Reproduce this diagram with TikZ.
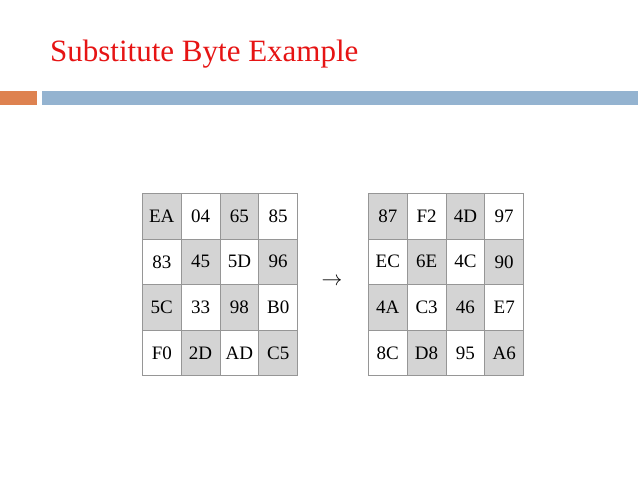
\documentclass[tikz,border=0pt]{standalone}
\usepackage{fontspec}
\setmainfont{Liberation Serif}
\definecolor{titlered}{RGB}{230,20,20}
\definecolor{barblue}{RGB}{148,179,208}
\definecolor{barorange}{RGB}{222,130,80}
\definecolor{cellgray}{RGB}{212,212,212}
\definecolor{gridline}{RGB}{150,150,150}
\begin{document}
\begin{tikzpicture}[x=1pt,y=-1pt,
  cellbox/.style={draw=gridline,line width=0.8pt,minimum width=38.8pt,minimum height=45.6pt,inner sep=0pt,anchor=north west,font=\fontsize{19}{20}\selectfont},
  shaded/.style={cellbox,fill=cellgray},
  plain/.style={cellbox,fill=white}]
\useasboundingbox (0,0) rectangle (638,478);
\fill[white] (0,0) rectangle (638,478);
\node[anchor=base west,text=titlered,font=\fontsize{31}{34}\selectfont,inner sep=0pt] (title) at (50,62) {Substitute Byte Example};
\fill[barorange] (0,91) rectangle (37,105);
\fill[barblue] (42,91) rectangle (638,105);
\def\leftvals{{"EA","04","65","85","83","45","5D","96","5C","33","98","B0","F0","2D","AD","C5"}}
\def\rightvals{{"87","F2","4D","97","EC","6E","4C","90","4A","C3","46","E7","8C","D8","95","A6"}}
\foreach \r in {0,1,2,3}{
  \foreach \c in {0,1,2,3}{
    \pgfmathtruncatemacro{\idx}{4*\r+\c}
    \pgfmathtruncatemacro{\parity}{mod(\r+\c,2)}
    \pgfmathsetmacro{\lv}{\leftvals[\idx]}
    \pgfmathsetmacro{\rv}{\rightvals[\idx]}
    \ifnum\parity=0
      \node[shaded] (L\r\c) at ({142+38.8*\c},{193+45.6*\r}) {\lv};
      \node[shaded] (R\r\c) at ({368+38.8*\c},{193+45.6*\r}) {\rv};
    \else
      \node[plain] (L\r\c) at ({142+38.8*\c},{193+45.6*\r}) {\lv};
      \node[plain] (R\r\c) at ({368+38.8*\c},{193+45.6*\r}) {\rv};
    \fi
  }
}
\node[font=\fontsize{20}{20}\selectfont] (arr) at (332,282) {$\rightarrow$};
\end{tikzpicture}
\end{document}
